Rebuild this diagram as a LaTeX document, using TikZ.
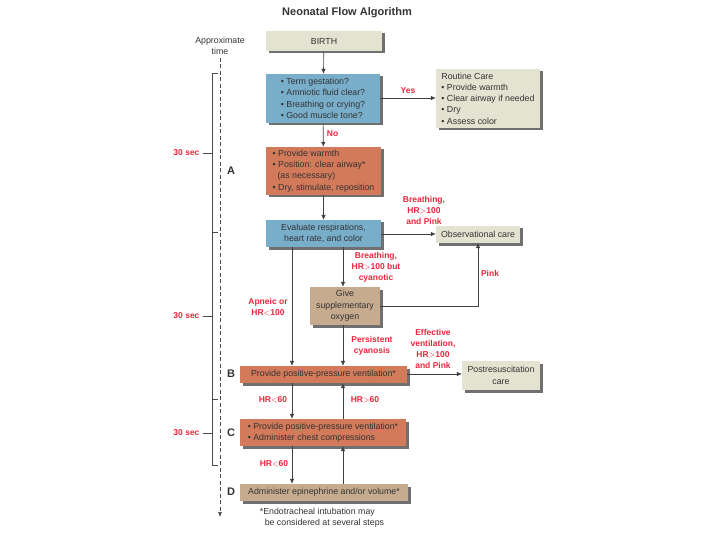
\documentclass[tikz,border=0pt]{standalone}
\usepackage{fontspec}
\setmainfont{Liberation Sans}
\usetikzlibrary{arrows.meta,shadows}
\definecolor{rd}{HTML}{E8263C}
\definecolor{beige}{HTML}{E4E2D0}
\definecolor{blu}{HTML}{78AECA}
\definecolor{org}{HTML}{D27A5A}
\definecolor{tan}{HTML}{C6AB8F}
\definecolor{txt}{HTML}{333333}
\begin{document}
\begin{tikzpicture}[x=1pt,y=-1pt,
 font=\fontsize{8.8}{11.3}\selectfont, text=txt,
 box/.style={draw=none,inner sep=2pt,align=center,
   drop shadow={shadow xshift=2.5pt,shadow yshift=-2.5pt,fill=black!70,opacity=.8}},
 arr/.style={draw=black!75,line width=0.6pt,-{Latex[length=5pt,width=4.5pt]}},
 lab/.style={text=rd,font=\fontsize{8.5}{11}\selectfont\bfseries,align=center},
 ln/.style={draw=black!70,line width=0.6pt}]
\useasboundingbox (0,0) rectangle (720,540);
\node[font=\fontsize{11}{13}\selectfont\bfseries] (title) at (347,13) {Neonatal Flow Algorithm};
\node[box,fill=beige,minimum width=116pt,minimum height=20pt] (birth) at (324,41) {BIRTH};
\node[box,fill=blu,minimum width=114pt,minimum height=49pt,align=left] (q) at (323,98.5)
 {• Term gestation?\\• Amniotic fluid clear?\\• Breathing or crying?\\• Good muscle tone?};
\node[box,fill=beige,minimum width=104pt,minimum height=59pt,align=left] (rc) at (488,98.5)
 {Routine Care\\• Provide warmth\\• Clear airway if needed\\• Dry\\• Assess color};
\node[box,fill=org,minimum width=115pt,minimum height=48pt,align=left] (o1) at (323.5,171)
 {• Provide warmth\\• Position: clear airway*\\\ \ (as necessary)\\• Dry, stimulate, reposition};
\node[box,fill=blu,minimum width=115pt,minimum height=27pt] (ev) at (323.5,233.5)
 {Evaluate respirations,\\heart rate, and color};
\node[box,fill=beige,minimum width=84pt,minimum height=17pt] (obs) at (478,234.5) {Observational care};
\node[box,fill=tan,minimum width=70pt,minimum height=38pt] (ox) at (345,306)
 {Give\\supplementary\\oxygen};
\node[box,fill=org,minimum width=167pt,minimum height=17pt] (ppv) at (323.5,374.5)
 {Provide positive-pressure ventilation*};
\node[box,fill=beige,minimum width=78pt,minimum height=29pt] (post) at (501,375.5)
 {Postresuscitation\\care};
\node[box,fill=org,minimum width=166pt,minimum height=27pt,align=left] (c) at (323,432.5)
 {• Provide positive-pressure ventilation*\\• Administer chest compressions};
\node[box,fill=tan,minimum width=168pt,minimum height=17pt] (d) at (324,492.5)
 {Administer epinephrine and/or volume*};
% arrows
\draw[arr] (birth) -- (q);
\draw[arr] (q) -- node[lab,right,pos=.45]{No} (o1);
\draw[arr] (q.east|-0,98) -- node[lab,above,pos=.5,yshift=1pt]{Yes} (rc.west|-0,98);
\draw[arr] (o1) -- (ev);
\draw[arr] (ev.east|-0,234) -- (obs.west|-0,234);
\node[lab] (l1) at (424,210) {Breathing,\\HR$>$100\\and Pink};
\coordinate (e1) at (292,247);
\draw[arr] (ev.south-|e1) -- (ppv.north-|e1);
\node[lab] (l2) at (268,307) {Apneic or\\HR$<$100};
\coordinate (e2) at (343,247);
\draw[arr] (ev.south-|e2) -- (ox.north-|e2);
\node[lab] (l3) at (376,267) {Breathing,\\HR$>$100 but\\cyanotic};
\coordinate (k) at (478,306);
\draw[arr] (ox.east|-k) -- (k) -- (obs.south-|k);
\node[lab] (l4) at (490,273) {Pink};
\draw[arr] (ox.south-|e2) -- (ppv.north-|e2);
\node[lab] (l5) at (372,346) {Persistent\\cyanosis};
\draw[arr] (ppv.east|-0,374) -- (post.west|-0,374);
\node[lab] (l6) at (433,349) {Effective\\ventilation,\\HR$>$100\\and Pink};
\draw[arr] (ppv.south-|e1) -- (c.north-|e1);
\node[lab] (l7) at (273,400) {HR$<$60};
\draw[arr] (c.north-|e2) -- (ppv.south-|e2);
\node[lab] (l8) at (365,400) {HR$>$60};
\draw[arr] (c.south-|e1) -- (d.north-|e1);
\node[lab] (l9) at (274,464) {HR$<$60};
\draw[arr] (d.north-|e2) -- (c.south-|e2);
% timeline
\node[align=center] (at) at (220,46) {Approximate\\time};
\coordinate (t0) at (220,58);
\coordinate (t1) at (220,517);
\draw[ln,dashed,dash pattern=on 4pt off 2.5pt,-{Latex[length=5pt,width=4pt]}] (t0) -- (t1);
\coordinate (b0) at (212,73); \coordinate (b1) at (212,232);
\coordinate (b2) at (212,399); \coordinate (b3) at (212,465);
\draw[ln] (218,73) -- (b0) -- (b3) -- (218,465);
\draw[ln] (b1) -- (218,232);
\draw[ln] (b2) -- (218,399);
\foreach \yy/\nm in {153/s1,316/s2,433/s3}{
  \node[lab,anchor=east] (\nm) at (203,\yy) {30 sec};
  \draw[ln] (\nm.east) -- (212,\yy);
}
\foreach \yy/\L in {171/A,374/B,433/C,492/D}
  \node[font=\fontsize{11}{13}\selectfont\bfseries] (L\L) at (231,\yy) {\L};
\node[align=left] (fn) at (322,518) {*Endotracheal intubation may\\\ \ be considered at several steps};
\end{tikzpicture}
\end{document}
